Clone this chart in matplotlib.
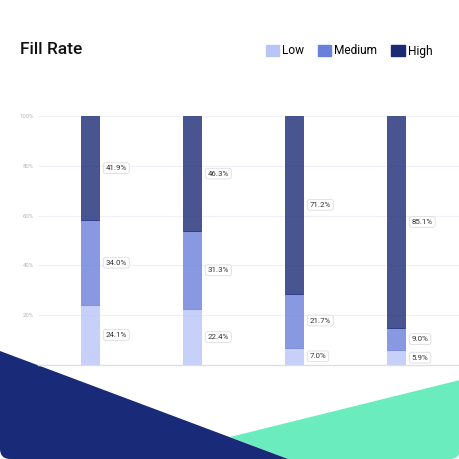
import matplotlib.pyplot as plt
from matplotlib.patches import Polygon, FancyBboxPatch, Patch
import numpy as np

plt.rcParams['font.family'] = ['Roboto', 'DejaVu Sans']

categories = ["A", "B", "C", "D"]
low = [24.1, 22.4, 7.0, 5.9]
medium = [34.0, 31.3, 21.7, 9.0]
high = [41.9, 46.3, 71.2, 85.1]
series_names = ["Low", "Medium", "High"]
colors = ["#b9c5f7", "#6a80db", "#1a2a75"]
yticks = [20, 40, 60, 80, 100]

fig = plt.figure(figsize=(4.6, 4.59), dpi=100)
W, H = 460, 459

# card with rounded corners, background shapes clipped to it
card = FancyBboxPatch((0, 0), 1, 1, boxstyle="round,pad=0,rounding_size=0.022",
                      transform=fig.transFigure, facecolor="white", edgecolor="none", zorder=-3)
fig.patches.append(card)

def fxy(px, py):
    return (px / W, 1 - py / H)

green = Polygon([fxy(230, 437), fxy(460, 380), fxy(460, 459), fxy(288, 459)],
                closed=True, transform=fig.transFigure, facecolor="#6aecbf", edgecolor="none", zorder=-2)
navy = Polygon([fxy(0, 351), fxy(288, 459), fxy(0, 459)],
               closed=True, transform=fig.transFigure, facecolor="#182a78", edgecolor="none", zorder=-1)
for p in (green, navy):
    p.set_clip_path(card)
    fig.patches.append(p)

ax = fig.add_axes([38 / W, 94 / H, (W - 38) / W, 249 / H])
ax.set_facecolor("none")

x = np.arange(len(categories))
w = 0.176
bottoms = np.zeros(len(categories))
for vals, c in zip([low, medium, high], colors):
    vals = np.array(vals)
    ax.bar(x, vals, w, bottom=bottoms, color=c, alpha=0.8, edgecolor=c, linewidth=0.6, zorder=3)
    for xi, b, v in zip(x, bottoms, vals):
        ax.annotate(f"{v:.1f}%", (xi + w / 2, b + v / 2), xytext=(4.8, 0), textcoords="offset points",
                    ha="left", va="center", fontsize=5.7, color="#333333", zorder=5,
                    bbox=dict(boxstyle="round,pad=0.3,rounding_size=0.3", fc="white", ec="#dddddd", lw=0.6))
    bottoms = bottoms + vals

ax.set_xlim(-0.51, 3.627)
ax.set_ylim(0, 100)
ax.set_xticks([])
ax.set_yticks(yticks)
ax.set_yticklabels([f"{t}%" for t in yticks], fontsize=4.3, color="#b5b5b5")
ax.tick_params(axis="y", length=0, pad=3)
ax.grid(axis="y", color="#edf0f8", linewidth=0.8, zorder=0)
for s in ["top", "right", "left"]:
    ax.spines[s].set_visible(False)
ax.spines["bottom"].set_color("#dcdfe8")
ax.spines["bottom"].set_linewidth(1.0)

fig.text(20 / W, 1 - 50 / H, "Fill Rate", fontsize=12.5, fontweight="medium", color="#111111", ha="left", va="center")

handles = [Patch(facecolor=c, edgecolor=c, alpha=1.0) for c in colors]
fig.legend(handles, series_names, loc="center right", bbox_to_anchor=(437 / W, 1 - 51 / H),
           ncol=3, frameon=False, fontsize=8.6, handlelength=1.1, handleheight=1.1,
           handletextpad=0.25, columnspacing=1.2, borderaxespad=0)

fig.savefig("out.png", dpi=100)
